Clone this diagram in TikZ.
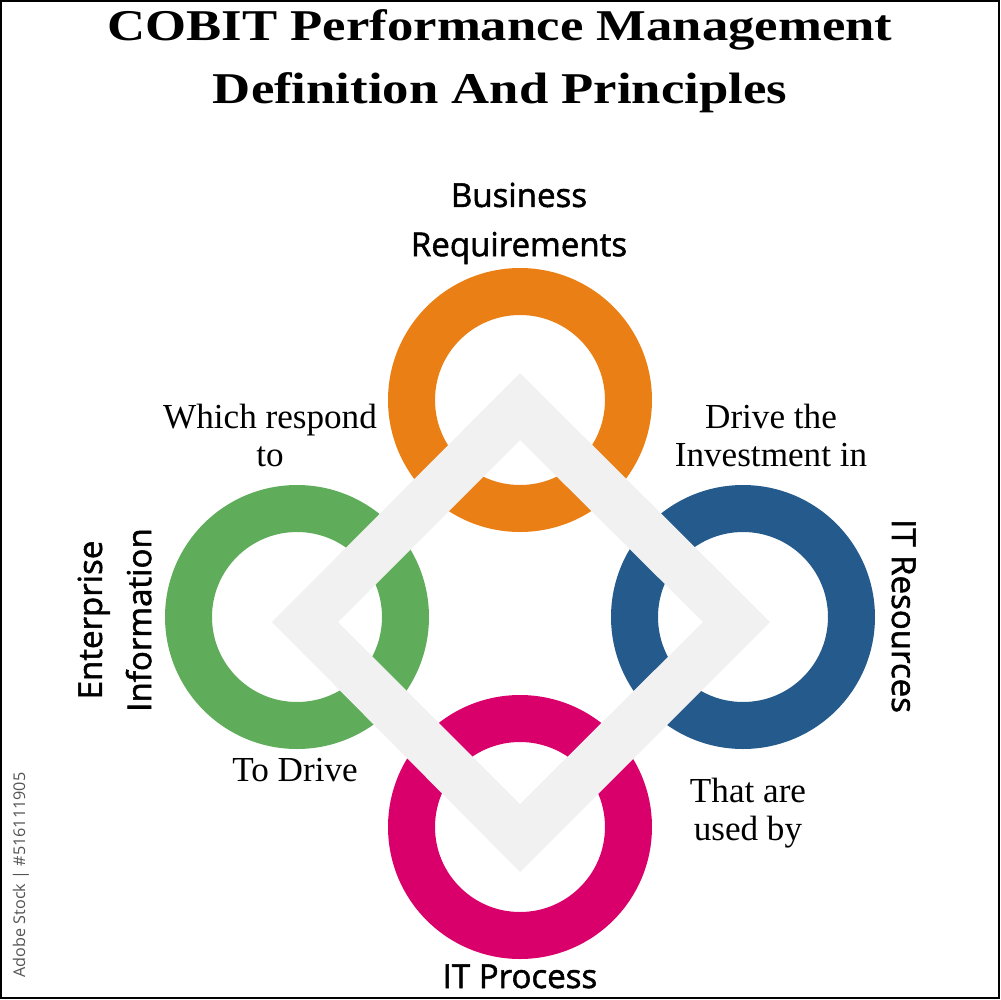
\documentclass[tikz,border=0pt]{standalone}
\usepackage{fontspec}
\usepackage{graphicx}
\setmainfont{Liberation Serif}
\newfontfamily\pillarfont{Open Sans}[FakeBold=1.6]
\newfontfamily\stampfont{Open Sans}
\usetikzlibrary{positioning}
\definecolor{bizorange}{HTML}{EA7F16}
\definecolor{infogreen}{HTML}{5FAD5A}
\definecolor{resblue}{HTML}{245A8C}
\definecolor{procmagenta}{HTML}{D9006B}
\definecolor{frame}{HTML}{F1F1F1}
\definecolor{stockgray}{HTML}{555555}
\tikzset{
  ring/.style={line width=4.7mm},
  headline/.style={anchor=base, inner sep=0pt, font=\bfseries\fontsize{12.5}{14}\selectfont},
  pillar/.style={inner sep=0pt, align=center, font=\pillarfont\fontsize{9.4}{14}\selectfont},
  link/.style={inner sep=0pt, align=center, font=\fontsize{10}{10.8}\selectfont},
  stamp/.style={inner sep=0pt, text=stockgray, font=\stampfont\fontsize{4.6}{5}\selectfont},
}

\begin{document}
\begin{tikzpicture}[x=0.1mm, y=-0.1mm]
  \useasboundingbox (0,0) rectangle (1000,1000);
  \draw[line width=0.25mm] (1,1) rectangle (999,998);

  % title
  \node[headline] (title1) at (500,40) {\scalebox{1.2}[1]{COBIT Performance Management}};
  \node[headline] (title2) at (500,103) {\scalebox{1.2}[1]{Definition And Principles}};

  % ring centres
  \coordinate (business) at (520,400);
  \coordinate (information) at (297,617);
  \coordinate (resources) at (743,617);
  \coordinate (process) at (520,827);

  \draw[ring, bizorange] (business) circle (108.5);
  \draw[ring, infogreen] (information) circle (108.5);
  \draw[ring, resblue] (resources) circle (108.5);
  \draw[ring, procmagenta] (process) circle (108.5);

  % diamond on top
  \fill[frame, even odd rule] (520,373) -- (770,622) -- (520,872) -- (272,622) -- cycle
    (520,440) -- (703,622) -- (520,804) -- (338,622) -- cycle;

  % pillar labels
  \node[pillar, anchor=north] (bizlabel) at (519,182) {Business\\Requirements};
  \node[pillar, rotate=90, anchor=north] (infolabel) at (77,620) {Enterprise\\Information};
  \node[pillar, rotate=-90, anchor=base] (reslabel) at (892,616) {IT Resources};
  \node[pillar, anchor=base] (proclabel) at (520,988) {IT Process};

  % links between pillars
  \node[link, anchor=north] (respond) at (270,403) {Which respond\\to};
  \node[link, anchor=north] (invest) at (771,403) {Drive the\\Investment in};
  \node[link, anchor=base] (todrive) at (295,781) {To Drive};
  \node[link, anchor=north] (usedby) at (748,777) {That are\\used by};

  \node[stamp, rotate=90, anchor=base west] (stock) at (25,978) {Adobe Stock | \#516111905};
\end{tikzpicture}
\end{document}
